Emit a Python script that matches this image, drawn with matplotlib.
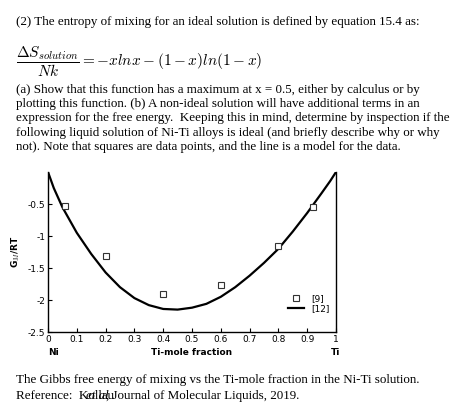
import matplotlib
matplotlib.use("Agg")
import matplotlib.pyplot as plt

data_x = [0.06, 0.2, 0.4, 0.6, 0.8, 0.92]
data_y = [-0.53, -1.32, -1.9, -1.77, -1.16, -0.54]
model_x = [0, 0.02, 0.05, 0.1, 0.15, 0.2, 0.25, 0.3, 0.35, 0.4, 0.45, 0.5, 0.55, 0.6,
           0.65, 0.7, 0.75, 0.8, 0.85, 0.9, 0.95, 0.98, 1.0]
model_y = [0, -0.25, -0.55, -0.95, -1.28, -1.57, -1.8, -1.97, -2.08, -2.14, -2.15, -2.12,
           -2.06, -1.95, -1.8, -1.62, -1.42, -1.2, -0.93, -0.64, -0.33, -0.14, 0]
xticks = [0, 0.1, 0.2, 0.3, 0.4, 0.5, 0.6, 0.7, 0.8, 0.9, 1]
yticks = [-0.5, -1, -1.5, -2, -2.5]

plt.rcParams['mathtext.fontset'] = 'cm'
fig = plt.figure(figsize=(4.74, 4.09), dpi=100)
serif = 'Liberation Serif'
fs = 9.4
fig.text(16/474, 1-22/409, "(2) The entropy of mixing for an ideal solution is defined by equation 15.4 as:",
         family=serif, fontsize=fs, va='center')
fig.text(16/474, 1-62/409, r"$\dfrac{\Delta S_{solution}}{Nk} = -xlnx - (1-x)ln(1-x)$",
         fontsize=11, va='center')
para = ("(a) Show that this function has a maximum at x = 0.5, either by calculus or by\n"
        "plotting this function. (b) A non-ideal solution will have additional terms in an\n"
        "expression for the free energy.  Keeping this in mind, determine by inspection if the\n"
        "following liquid solution of Ni-Ti alloys is ideal (and briefly describe why or why\n"
        "not). Note that squares are data points, and the line is a model for the data.")
fig.text(16/474, 1-84/409, para, family=serif, fontsize=fs, va='top', linespacing=1.25)
fig.text(16/474, 1-380/409, "The Gibbs free energy of mixing vs the Ti-mole fraction in the Ni-Ti solution.",
         family=serif, fontsize=fs, va='center')
fig.text(16/474, 1-396/409, "Reference:  Kollau ",
         family=serif, fontsize=fs, va='center')
fig.text(86/474, 1-396/409, "et al",
         family=serif, fontsize=fs, va='center', style='italic')
fig.text(106/474, 1-396/409, ", Journal of Molecular Liquids, 2019.",
         family=serif, fontsize=fs, va='center')

ax = fig.add_axes([48/474, 1-332/409, 288/474, 160/409])
ax.plot(model_x, model_y, color='black', lw=1.6, label='[12]')
ax.plot(data_x, data_y, ls='none', marker='s', mfc='white', mec='#333333', ms=4.5, mew=0.8, label='[9]')
ax.set_xlim(0, 1)
ax.set_ylim(-2.5, 0)
ax.set_xticks(xticks)
ax.set_xticklabels([str(t) for t in xticks])
ax.set_yticks(yticks)
ax.set_yticklabels([str(t) for t in yticks])
ax.spines['top'].set_visible(False)
for s in ['left', 'bottom', 'right']:
    ax.spines[s].set_linewidth(1.0)
ax.tick_params(direction='in', labelsize=6.5, length=3, pad=2)
ax.set_ylabel(r"G$_M$/RT", fontsize=6.5, fontweight='bold', labelpad=4)
ax.text(0, -0.1, "Ni", transform=ax.transAxes, fontsize=6.5, fontweight='bold', va='top')
ax.text(1, -0.1, "Ti", transform=ax.transAxes, fontsize=6.5, fontweight='bold', va='top', ha='center')
ax.text(0.5, -0.1, "Ti-mole fraction", transform=ax.transAxes, fontsize=6.5, fontweight='bold', va='top', ha='center')
h, l = ax.get_legend_handles_labels()
ax.legend(h[::-1], l[::-1], loc='lower right', bbox_to_anchor=(1.0, 0.08), frameon=False,
          fontsize=6.5, handlelength=1.8, labelspacing=0.1, borderpad=0.2)
fig.savefig("out.png", dpi=100)
